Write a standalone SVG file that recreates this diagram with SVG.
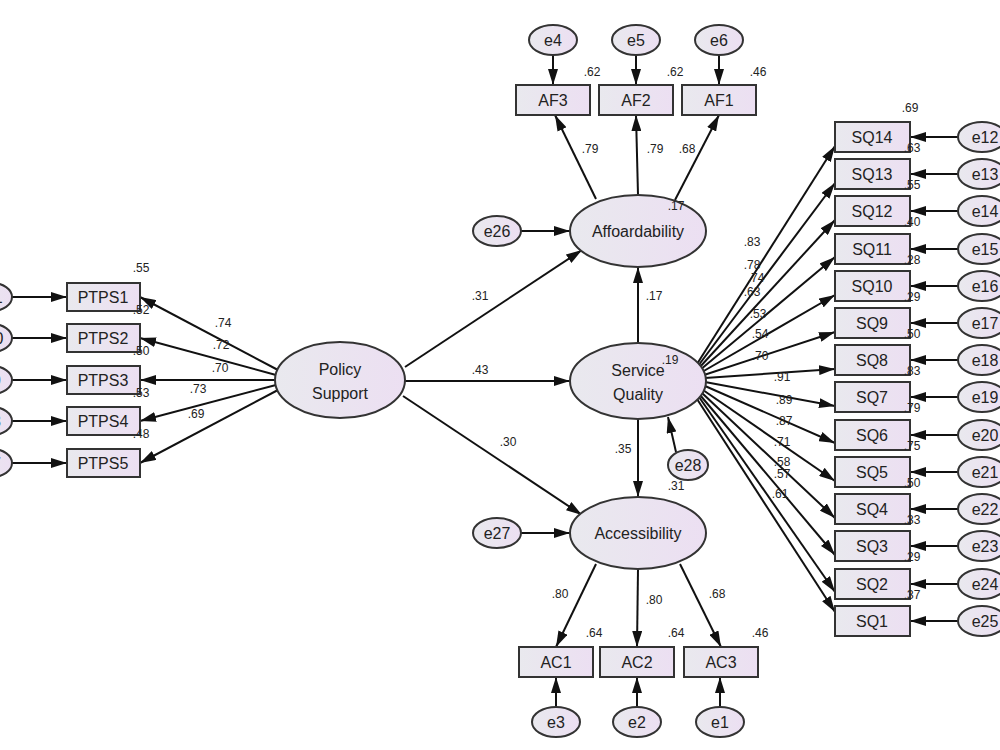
<svg xmlns="http://www.w3.org/2000/svg" width="1000" height="750" viewBox="0 0 1000 750">
<defs>
<marker id="a" viewBox="0 0 16 10" refX="16" refY="5" markerWidth="16" markerHeight="10" markerUnits="userSpaceOnUse" orient="auto"><path d="M0,0 L16,5 L0,10 z" fill="#111"/></marker>
<linearGradient id="g" x1="0" y1="0" x2="1" y2="0"><stop offset="0" stop-color="#e9e9ee"/><stop offset="1" stop-color="#ecdff2"/></linearGradient>
</defs>
<style>
rect,ellipse{fill:url(#g);stroke:#333;stroke-width:2}
text{font-family:"Liberation Sans",Arial,sans-serif;fill:#222}
.n{font-size:16px;text-anchor:middle}
.s{font-size:12px;text-anchor:middle}
line{stroke:#111;stroke-width:2;marker-end:url(#a)}
</style>
<rect width="1000" height="750" style="fill:#fff;stroke:none"/>
<g id="connectors">
<line x1="0" y1="297" x2="67" y2="297"/><line x1="0" y1="338" x2="67" y2="338"/><line x1="0" y1="380" x2="67" y2="380"/><line x1="0" y1="421" x2="67" y2="421"/><line x1="0" y1="463" x2="67" y2="463"/>
<line x1="278" y1="370" x2="140" y2="297"/><line x1="276" y1="375" x2="140" y2="338"/><line x1="275" y1="380" x2="140" y2="380"/><line x1="276" y1="385" x2="140" y2="421"/><line x1="278" y1="390" x2="140" y2="463"/>
<line x1="405" y1="367" x2="582" y2="250"/><line x1="405" y1="381" x2="570" y2="381"/><line x1="403" y1="396" x2="582" y2="515"/>
<line x1="638" y1="343" x2="638" y2="267"/><line x1="638" y1="419" x2="638" y2="497"/>
<line x1="521" y1="231" x2="570" y2="231"/><line x1="521" y1="533" x2="570" y2="533"/><line x1="676" y1="452" x2="668" y2="417"/>
<line x1="596" y1="199" x2="555" y2="115"/><line x1="638" y1="195" x2="636" y2="115"/><line x1="675" y1="200" x2="719" y2="115"/>
<line x1="553" y1="55" x2="553" y2="85"/><line x1="636" y1="55" x2="636" y2="85"/><line x1="719" y1="55" x2="719" y2="85"/>
<line x1="596" y1="564" x2="556" y2="647"/><line x1="638" y1="569" x2="637" y2="647"/><line x1="680" y1="564" x2="721" y2="647"/>
<line x1="556" y1="707" x2="556" y2="677"/><line x1="637" y1="707" x2="637" y2="677"/><line x1="720" y1="707" x2="720" y2="677"/>
<g>
<line x1="697" y1="364" x2="835" y2="146"/><line x1="698" y1="366" x2="835" y2="183"/><line x1="699" y1="368" x2="835" y2="220"/><line x1="700" y1="370" x2="835" y2="257"/><line x1="702" y1="372" x2="835" y2="295"/><line x1="704" y1="375" x2="835" y2="332"/><line x1="705" y1="378" x2="835" y2="369"/><line x1="705" y1="382" x2="835" y2="406"/><line x1="705" y1="386" x2="835" y2="443"/><line x1="703" y1="390" x2="835" y2="481"/><line x1="702" y1="393" x2="835" y2="518"/><line x1="700" y1="395" x2="835" y2="555"/><line x1="699" y1="397" x2="835" y2="592"/><line x1="697" y1="399" x2="835" y2="612"/>
</g>
<g>
<line x1="958" y1="137" x2="910" y2="137"/><line x1="958" y1="174" x2="910" y2="174"/><line x1="958" y1="211" x2="910" y2="211"/><line x1="958" y1="249" x2="910" y2="249"/><line x1="958" y1="286" x2="910" y2="286"/><line x1="958" y1="323" x2="910" y2="323"/><line x1="958" y1="360" x2="910" y2="360"/><line x1="958" y1="397" x2="910" y2="397"/><line x1="958" y1="435" x2="910" y2="435"/><line x1="958" y1="472" x2="910" y2="472"/><line x1="958" y1="509" x2="910" y2="509"/><line x1="958" y1="546" x2="910" y2="546"/><line x1="958" y1="584" x2="910" y2="584"/><line x1="958" y1="621" x2="910" y2="621"/>
</g>
</g>
<g id="latents">
<g id="policy"><ellipse cx="340" cy="380" rx="65" ry="38"/><text class="n" x="340" y="375">Policy</text><text class="n" x="340" y="399">Support</text></g>
<g id="afford"><ellipse cx="638" cy="231" rx="68" ry="36"/><text class="n" x="638" y="237">Affoardability</text></g>
<g id="sq"><ellipse cx="638" cy="381" rx="68" ry="38"/><text class="n" x="638" y="376">Service</text><text class="n" x="638" y="400">Quality</text></g>
<g id="access"><ellipse cx="638" cy="533" rx="68" ry="36"/><text class="n" x="638" y="539">Accessibility</text></g>
</g>
<g id="observed">
<g><rect x="67" y="283" width="73" height="28"/><text class="n" x="103" y="303">PTPS1</text></g>
<g><rect x="67" y="324" width="73" height="28"/><text class="n" x="103" y="344">PTPS2</text></g>
<g><rect x="67" y="366" width="73" height="28"/><text class="n" x="103" y="386">PTPS3</text></g>
<g><rect x="67" y="407" width="73" height="28"/><text class="n" x="103" y="427">PTPS4</text></g>
<g><rect x="67" y="449" width="73" height="28"/><text class="n" x="103" y="469">PTPS5</text></g>
<g><rect x="516" y="85" width="74" height="30"/><text class="n" x="553" y="106">AF3</text></g>
<g><rect x="599" y="85" width="74" height="30"/><text class="n" x="636" y="106">AF2</text></g>
<g><rect x="682" y="85" width="74" height="30"/><text class="n" x="719" y="106">AF1</text></g>
<g><rect x="519" y="647" width="74" height="30"/><text class="n" x="556" y="668">AC1</text></g>
<g><rect x="600" y="647" width="74" height="30"/><text class="n" x="637" y="668">AC2</text></g>
<g><rect x="684" y="647" width="74" height="30"/><text class="n" x="721" y="668">AC3</text></g>
<g>
<rect x="835" y="122" width="75" height="30"/><text class="n" x="872" y="143">SQ14</text>
<rect x="835" y="159" width="75" height="30"/><text class="n" x="872" y="180">SQ13</text>
<rect x="835" y="196" width="75" height="30"/><text class="n" x="872" y="217">SQ12</text>
<rect x="835" y="234" width="75" height="30"/><text class="n" x="872" y="255">SQ11</text>
<rect x="835" y="271" width="75" height="30"/><text class="n" x="872" y="292">SQ10</text>
<rect x="835" y="308" width="75" height="30"/><text class="n" x="872" y="329">SQ9</text>
<rect x="835" y="345" width="75" height="30"/><text class="n" x="872" y="366">SQ8</text>
<rect x="835" y="382" width="75" height="30"/><text class="n" x="872" y="403">SQ7</text>
<rect x="835" y="420" width="75" height="30"/><text class="n" x="872" y="441">SQ6</text>
<rect x="835" y="457" width="75" height="30"/><text class="n" x="872" y="478">SQ5</text>
<rect x="835" y="494" width="75" height="30"/><text class="n" x="872" y="515">SQ4</text>
<rect x="835" y="531" width="75" height="30"/><text class="n" x="872" y="552">SQ3</text>
<rect x="835" y="569" width="75" height="30"/><text class="n" x="872" y="590">SQ2</text>
<rect x="835" y="606" width="75" height="30"/><text class="n" x="872" y="627">SQ1</text>
</g>
</g>
<g id="errors">
<ellipse cx="553" cy="40" rx="24" ry="15"/><text class="n" x="553" y="46">e4</text>
<ellipse cx="636" cy="40" rx="24" ry="15"/><text class="n" x="636" y="46">e5</text>
<ellipse cx="719" cy="40" rx="24" ry="15"/><text class="n" x="719" y="46">e6</text>
<ellipse cx="556" cy="722" rx="24" ry="15"/><text class="n" x="556" y="728">e3</text>
<ellipse cx="637" cy="722" rx="24" ry="15"/><text class="n" x="637" y="728">e2</text>
<ellipse cx="720" cy="722" rx="24" ry="15"/><text class="n" x="720" y="728">e1</text>
<ellipse cx="497" cy="231" rx="24" ry="15"/><text class="n" x="497" y="237">e26</text>
<ellipse cx="497" cy="533" rx="24" ry="15"/><text class="n" x="497" y="539">e27</text>
<ellipse cx="688" cy="465" rx="20" ry="15"/><text class="n" x="688" y="471">e28</text>
<ellipse cx="-8" cy="297" rx="20" ry="14"/><text class="n" x="-10" y="303">e11</text>
<ellipse cx="-8" cy="338" rx="20" ry="14"/><text class="n" x="-10" y="344">e10</text>
<ellipse cx="-8" cy="380" rx="20" ry="14"/><text class="n" x="-8" y="386">e9</text>
<ellipse cx="-8" cy="421" rx="20" ry="14"/><text class="n" x="-8" y="427">e8</text>
<ellipse cx="-8" cy="463" rx="20" ry="14"/><text class="n" x="-8" y="469">e7</text>
<g>
<ellipse cx="982" cy="137" rx="24" ry="15"/><text class="n" x="985" y="143">e12</text>
<ellipse cx="982" cy="174" rx="24" ry="15"/><text class="n" x="985" y="180">e13</text>
<ellipse cx="982" cy="211" rx="24" ry="15"/><text class="n" x="985" y="217">e14</text>
<ellipse cx="982" cy="249" rx="24" ry="15"/><text class="n" x="985" y="255">e15</text>
<ellipse cx="982" cy="286" rx="24" ry="15"/><text class="n" x="985" y="292">e16</text>
<ellipse cx="982" cy="323" rx="24" ry="15"/><text class="n" x="985" y="329">e17</text>
<ellipse cx="982" cy="360" rx="24" ry="15"/><text class="n" x="985" y="366">e18</text>
<ellipse cx="982" cy="397" rx="24" ry="15"/><text class="n" x="985" y="403">e19</text>
<ellipse cx="982" cy="435" rx="24" ry="15"/><text class="n" x="985" y="441">e20</text>
<ellipse cx="982" cy="472" rx="24" ry="15"/><text class="n" x="985" y="478">e21</text>
<ellipse cx="982" cy="509" rx="24" ry="15"/><text class="n" x="985" y="515">e22</text>
<ellipse cx="982" cy="546" rx="24" ry="15"/><text class="n" x="985" y="552">e23</text>
<ellipse cx="982" cy="584" rx="24" ry="15"/><text class="n" x="985" y="590">e24</text>
<ellipse cx="982" cy="621" rx="24" ry="15"/><text class="n" x="985" y="627">e25</text>
</g>
</g>
<g id="labels">
<text class="s" x="141" y="272">.55</text><text class="s" x="141" y="314">.52</text><text class="s" x="141" y="355">.50</text><text class="s" x="141" y="397">.53</text><text class="s" x="141" y="438">.48</text>
<text class="s" x="223" y="327">.74</text><text class="s" x="221" y="349">.72</text><text class="s" x="220" y="372">.70</text><text class="s" x="198" y="393">.73</text><text class="s" x="196" y="418">.69</text>
<text class="s" x="480" y="300">.31</text><text class="s" x="480" y="374">.43</text><text class="s" x="508" y="446">.30</text>
<text class="s" x="654" y="300">.17</text><text class="s" x="676" y="210">.17</text><text class="s" x="670" y="364">.19</text>
<text class="s" x="623" y="453">.35</text><text class="s" x="676" y="490">.31</text>
<text class="s" x="590" y="153">.79</text><text class="s" x="655" y="153">.79</text><text class="s" x="687" y="153">.68</text>
<text class="s" x="592" y="76">.62</text><text class="s" x="675" y="76">.62</text><text class="s" x="758" y="76">.46</text>
<text class="s" x="560" y="598">.80</text><text class="s" x="654" y="604">.80</text><text class="s" x="717" y="598">.68</text>
<text class="s" x="594" y="637">.64</text><text class="s" x="676" y="637">.64</text><text class="s" x="760" y="637">.46</text>
<text class="s" x="752" y="246">.83</text><text class="s" x="752" y="269">.78</text><text class="s" x="756" y="282">.74</text><text class="s" x="752" y="296">.63</text><text class="s" x="758" y="318">.53</text><text class="s" x="760" y="338">.54</text><text class="s" x="760" y="360">.70</text><text class="s" x="782" y="381">.91</text><text class="s" x="784" y="404">.89</text><text class="s" x="784" y="425">.87</text><text class="s" x="782" y="446">.71</text><text class="s" x="782" y="466">.58</text><text class="s" x="782" y="478">.57</text><text class="s" x="780" y="498">.61</text>
<text class="s" x="910" y="112">.69</text><text class="s" x="912" y="152">.63</text><text class="s" x="912" y="189">.55</text><text class="s" x="912" y="226">.40</text><text class="s" x="912" y="264">.28</text><text class="s" x="912" y="301">.29</text><text class="s" x="912" y="338">.50</text><text class="s" x="912" y="375">.83</text><text class="s" x="912" y="412">.79</text><text class="s" x="912" y="450">.75</text><text class="s" x="912" y="487">.50</text><text class="s" x="912" y="524">.33</text><text class="s" x="912" y="561">.29</text><text class="s" x="912" y="599">.37</text>
</g>
</svg>
